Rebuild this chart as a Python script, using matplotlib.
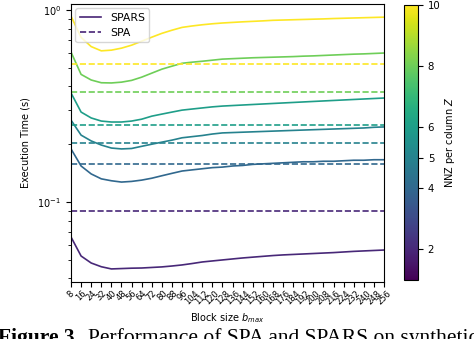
import matplotlib
matplotlib.use("Agg")
import matplotlib.pyplot as plt
import numpy as np
from matplotlib.colors import Normalize
from matplotlib.cm import ScalarMappable
from matplotlib.ticker import NullFormatter

# block sizes b_max
block_sizes = list(range(8, 257, 8))

# nonzeros per column for each synthetic matrix
nnz_z = [2, 4, 5, 6, 8, 10]

# SPARS execution time (s) per block size, one list per Z
spars_z2 = [0.0657, 0.0523, 0.0481, 0.0460, 0.0448, 0.0450, 0.0452, 0.0453,
            0.0456, 0.0459, 0.0464, 0.0470, 0.0478, 0.0487, 0.0493, 0.0499,
            0.0505, 0.0511, 0.0516, 0.0521, 0.0526, 0.0530, 0.0533, 0.0536,
            0.0539, 0.0542, 0.0545, 0.0549, 0.0553, 0.0556, 0.0559, 0.0562]
spars_z4 = [0.189, 0.154, 0.140, 0.132, 0.129, 0.127, 0.128, 0.130,
            0.133, 0.137, 0.141, 0.145, 0.147, 0.149, 0.151, 0.152,
            0.154, 0.155, 0.157, 0.158, 0.159, 0.160, 0.161, 0.162,
            0.162, 0.163, 0.163, 0.164, 0.165, 0.165, 0.166, 0.166]
spars_z5 = [0.267, 0.223, 0.208, 0.198, 0.191, 0.189, 0.190, 0.195,
            0.200, 0.205, 0.210, 0.216, 0.219, 0.222, 0.226, 0.229,
            0.230, 0.231, 0.232, 0.233, 0.234, 0.235, 0.236, 0.237,
            0.238, 0.239, 0.240, 0.241, 0.242, 0.243, 0.245, 0.246]
spars_z6 = [0.370, 0.294, 0.274, 0.264, 0.261, 0.261, 0.264, 0.270,
            0.280, 0.287, 0.294, 0.301, 0.305, 0.309, 0.313, 0.316,
            0.318, 0.320, 0.322, 0.324, 0.326, 0.328, 0.330, 0.332,
            0.334, 0.336, 0.338, 0.340, 0.342, 0.344, 0.346, 0.348]
spars_z8 = [0.604, 0.462, 0.432, 0.418, 0.417, 0.421, 0.430, 0.447,
            0.469, 0.492, 0.510, 0.528, 0.535, 0.541, 0.548, 0.555,
            0.558, 0.561, 0.564, 0.566, 0.568, 0.570, 0.572, 0.575,
            0.577, 0.580, 0.583, 0.586, 0.589, 0.591, 0.594, 0.597]
spars_z10 = [0.930, 0.720, 0.645, 0.613, 0.618, 0.633, 0.656, 0.688,
             0.722, 0.756, 0.785, 0.812, 0.826, 0.838, 0.848, 0.856,
             0.862, 0.868, 0.873, 0.878, 0.884, 0.887, 0.890, 0.893,
             0.896, 0.899, 0.903, 0.906, 0.909, 0.912, 0.915, 0.918]

# SPA does not depend on block size: one time per Z
spa_times = [0.0901, 0.158, 0.203, 0.252, 0.376, 0.523]

spars_times = [spars_z2, spars_z4, spars_z5, spars_z6, spars_z8, spars_z10]

W, H = 474, 339
fig = plt.figure(figsize=(W / 100, H / 100), dpi=100)
ax = fig.add_axes([71 / W, 1 - 282 / H, (384 - 71) / W, (282 - 4) / H])
cax = fig.add_axes([404 / W, 1 - 280 / H, 14 / W, 275 / H])

cmap = plt.get_cmap("viridis")
norm = Normalize(vmin=1, vmax=10)

for z, spars, spa in zip(nnz_z, spars_times, spa_times):
    c = cmap(norm(z))
    ax.plot(block_sizes, spars, color=c, lw=1.2)
    ax.axhline(spa, color=c, lw=1.2, ls="--")

ax.set_yscale("log")
ax.set_xlim(8, 256)
ax.set_ylim(0.0383, 1.075)
ax.set_xticks(block_sizes)
ax.set_xticklabels([str(b) for b in block_sizes], rotation=45, fontsize=6)
ax.yaxis.set_minor_formatter(NullFormatter())
ax.tick_params(axis="y", labelsize=7)
ax.tick_params(axis="x", pad=1.5)
ax.set_xlabel("Block size $b_{max}$", fontsize=7, labelpad=3)
ax.set_ylabel("Execution Time (s)", fontsize=7, labelpad=5)

leg_color = cmap(0.1)
ax.plot([], [], color=leg_color, lw=1.2, label="SPARS")
ax.plot([], [], color=leg_color, lw=1.2, ls="--", label="SPA")
ax.legend(loc="upper left", fontsize=7.8, handlelength=2.0,
          borderaxespad=0.4)

sm = ScalarMappable(norm=norm, cmap=cmap)
cb = fig.colorbar(sm, cax=cax)
cb.set_ticks(nnz_z)
cb.ax.tick_params(labelsize=7.3)
cb.set_label("NNZ per column $Z$", fontsize=7, labelpad=2)

# caption underneath
fig.text(-2 / W, -4 / H, "Figure 3.", fontsize=15.5, fontweight="bold",
         family="Liberation Serif", va="baseline", ha="left")
fig.text(88 / W, -4 / H, "Performance of SPA and SPARS on synthetic",
         fontsize=15.5, family="Liberation Serif", va="baseline", ha="left")

fig.savefig("out.png", dpi=100)
